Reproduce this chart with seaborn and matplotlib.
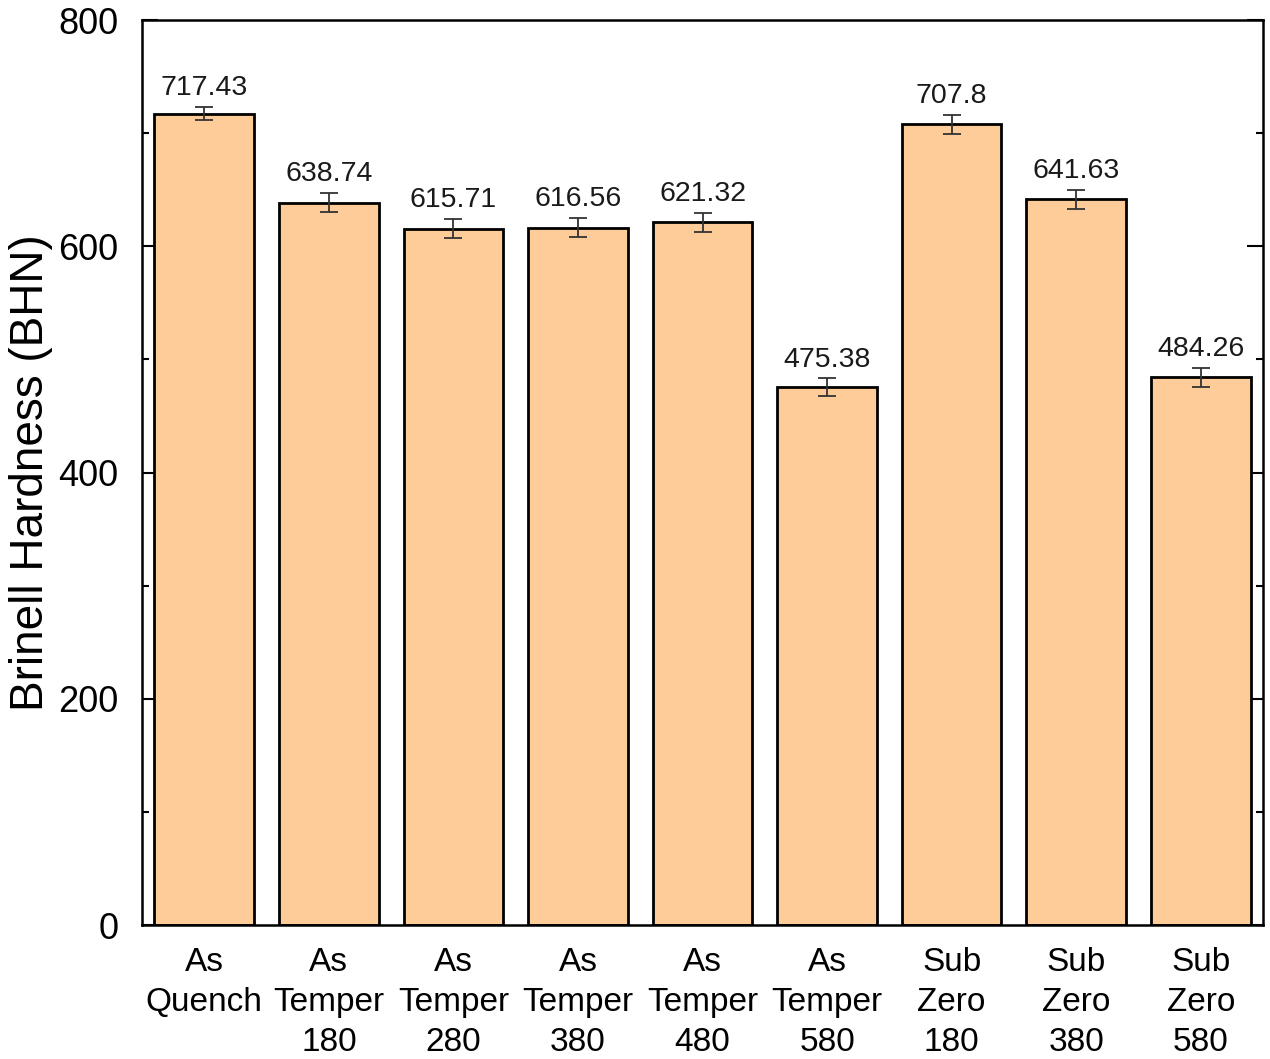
import numpy as np
import pandas as pd
import matplotlib
matplotlib.use("Agg")
import matplotlib.pyplot as plt
from matplotlib.ticker import MultipleLocator
import seaborn as sns

# data
conditions = ["As\nQuench", "As\nTemper\n180", "As\nTemper\n280", "As\nTemper\n380",
              "As\nTemper\n480", "As\nTemper\n580", "Sub\nZero\n180", "Sub\nZero\n380",
              "Sub\nZero\n580"]
hardness = [717.43, 638.74, 615.71, 616.56, 621.32, 475.38, 707.8, 641.63, 484.26]
errors = [6.0, 8.5, 8.5, 8.5, 8.3, 8.0, 8.3, 8.3, 8.4]

sns.set_style("white")
plt.rcParams['font.family'] = ['Liberation Sans', 'DejaVu Sans']
plt.rcParams['text.color'] = 'black'
plt.rcParams['xtick.color'] = 'black'
plt.rcParams['ytick.color'] = 'black'
plt.rcParams['axes.labelcolor'] = 'black'

df = pd.DataFrame({"condition": conditions, "hardness": hardness})

fig = plt.figure(figsize=(12.7, 10.59), dpi=100)
ax = fig.add_axes([0.1118, 0.1265, 0.8827, 0.8545])

sns.barplot(data=df, x="condition", y="hardness", color="#FECC99", saturation=1,
            edgecolor="black", linewidth=2, width=0.8, ax=ax)

xpos = np.arange(len(conditions))
ax.errorbar(xpos, hardness, yerr=errors, fmt="none", ecolor="#333333",
            elinewidth=1.3, capsize=6.5, capthick=1.3)

for i, (v, e) in enumerate(zip(hardness, errors)):
    ax.annotate(f"{v:g}", (i, v + e), xytext=(0, 4), textcoords="offset points",
                ha="center", va="bottom", fontsize=20.5, color="#1a1a1a")

ax.set_xlim(-0.5, 8.5)
ax.set_ylim(0, 800)
ax.yaxis.set_major_locator(MultipleLocator(200))
ax.yaxis.set_minor_locator(MultipleLocator(100))
ax.tick_params(axis="y", which="major", direction="in", length=11.5, width=1.5,
               left=True, right=True, labelsize=26, pad=17)
ax.tick_params(axis="y", which="minor", direction="in", length=5, width=1.5,
               left=True, right=True)
ax.tick_params(axis="x", length=0, labelsize=24, pad=16)
for lbl in ax.get_xticklabels():
    lbl.set_linespacing(1.38)

ax.set_xlabel("")
ax.set_ylabel("Brinell Hardness (BHN)", fontsize=33, labelpad=4)
for s in ax.spines.values():
    s.set_linewidth(1.8)
    s.set_color("black")

fig.savefig("out.png", dpi=100)
